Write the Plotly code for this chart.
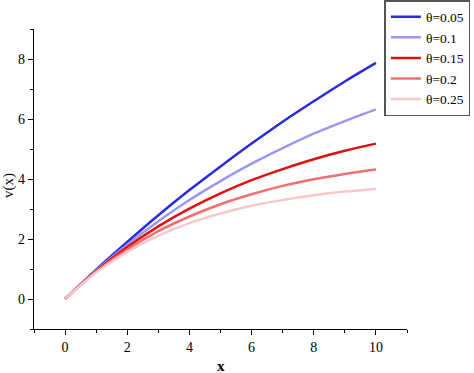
import plotly.graph_objects as go

x = [0, 1, 2, 3, 4, 5, 6, 7, 8, 9, 10]
v_005 = [0, 0.98, 1.90, 2.79, 3.63, 4.42, 5.18, 5.91, 6.59, 7.25, 7.87]
v_010 = [0, 0.95, 1.81, 2.59, 3.30, 3.93, 4.51, 5.03, 5.51, 5.93, 6.32]
v_015 = [0, 0.93, 1.73, 2.42, 3.01, 3.52, 3.96, 4.33, 4.66, 4.94, 5.18]
v_020 = [0, 0.91, 1.65, 2.26, 2.75, 3.16, 3.49, 3.77, 3.99, 4.17, 4.32]
v_025 = [0, 0.88, 1.57, 2.11, 2.53, 2.85, 3.11, 3.30, 3.46, 3.58, 3.67]
names = ["θ=0.05", "θ=0.1", "θ=0.15", "θ=0.2", "θ=0.25"]
series = [v_005, v_010, v_015, v_020, v_025]
colors = ["#2a2ae0", "#9898f0", "#e01010", "#f07070", "#f8c8c8"]

fig = go.Figure()
for n, s, c in zip(names, series, colors):
    fig.add_trace(go.Scatter(x=x, y=s, mode="lines", name=n,
                             line=dict(color=c, width=2.5, shape="spline")))

font = "Liberation Serif"
axis_common = dict(showline=True, linecolor="black", linewidth=1.2,
                   ticks="outside", ticklen=5, tickcolor="black",
                   showgrid=False, zeroline=False, mirror=False,
                   automargin=False,
                   tickfont=dict(family=font, size=14, color="black"),
                   minor=dict(ticks="outside", ticklen=3, tickcolor="black", dtick=1))
fig.update_layout(
    width=474, height=373,
    margin=dict(l=34, r=67, t=29, b=44, autoexpand=False),
    plot_bgcolor="white", paper_bgcolor="white",
    font=dict(family=font, color="black"),
    xaxis=dict(range=[-1, 11], dtick=2, tick0=0, **axis_common),
    yaxis=dict(range=[-1, 9], dtick=2, tick0=0, **axis_common),
    legend=dict(x=0.811, y=1.016, xref="container", yref="container",
                xanchor="left", yanchor="top",
                bordercolor="#555555", borderwidth=1.5, bgcolor="white",
                font=dict(family=font, size=13.5, color="black"),
                tracegroupgap=0, itemwidth=30),
    showlegend=True,
    annotations=[
        dict(text="<b>x</b>", xref="paper", yref="paper", x=0.5, y=-0.123,
             xanchor="center", yanchor="middle", showarrow=False,
             font=dict(family=font, size=15, color="black")),
        dict(text="v(x)", xref="paper", yref="paper", x=-0.070, y=0.48,
             xanchor="center", yanchor="middle", showarrow=False, textangle=-90,
             font=dict(family=font, size=15, color="black")),
    ],
)
fig.update_yaxes(minor=dict(dtick=1))
fig.write_html("out.html", config={"displayModeBar": False},
               post_script="document.body.style.margin='0px';")
